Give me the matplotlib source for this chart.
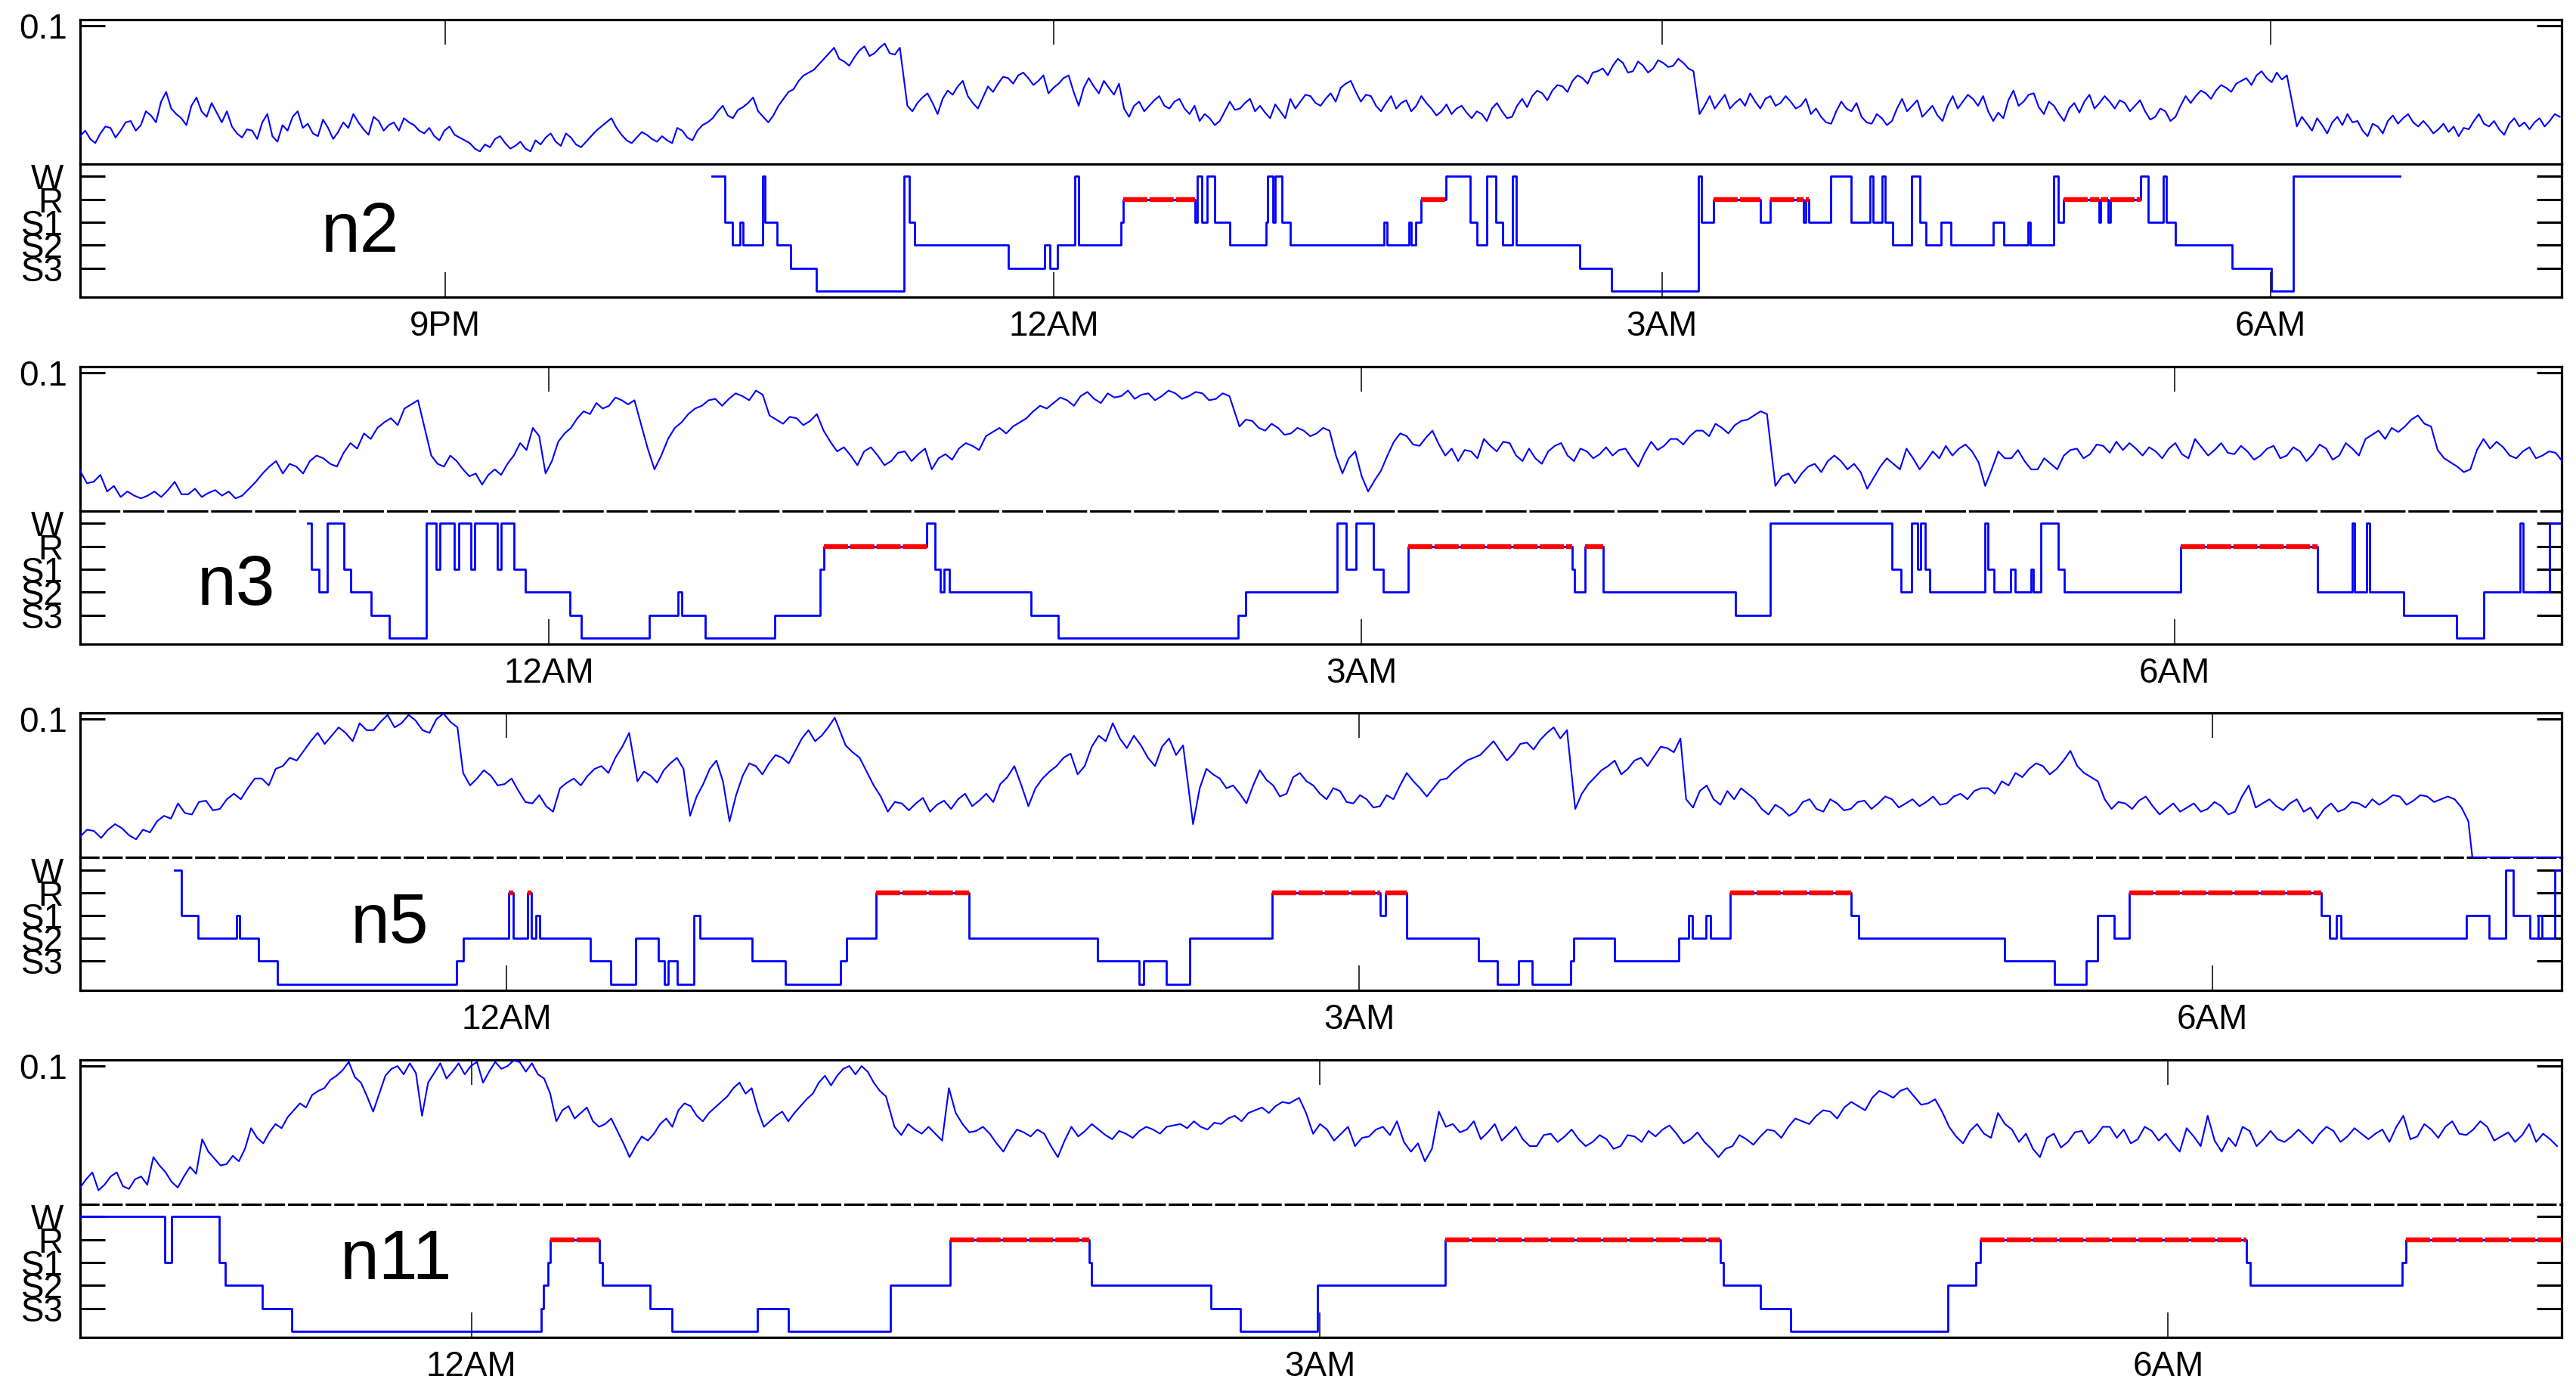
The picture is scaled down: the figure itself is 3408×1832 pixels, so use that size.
import numpy as np
import matplotlib
matplotlib.use('Agg')
import matplotlib.pyplot as plt

plt.rcParams['font.family'] = ['Liberation Sans', 'DejaVu Sans']

# ---------------------------------------------------------------- data
STAGE_LEVEL = {'W': 0, 'R': -1, 'S1': -2, 'S2': -3, 'S3': -4, 'S4': -5}
stage_ticks = ['W', 'R', 'S1', 'S2', 'S3']
upper_tick = [0.1]
upper_ticklabel = ['0.1']

# time axis in hours (24 = 12AM)
n2_xlim = (19.198, 31.437)
n2_xticks = [21, 24, 27, 30]
n2_xticklabels = ['9PM', '12AM', '3AM', '6AM']
other_xticks = [24, 27, 30]
other_xticklabels = ['12AM', '3AM', '6AM']
n3_xlim = (22.270, 31.429)
n5_xlim = (22.501, 31.228)
n11_xlim = (22.616, 31.392)

# ---- signals (values x 1e-3). Each segment: main samples + in-between samples,
#      evenly spaced over the segment's time span.
n2_sig_spans = [(19.198, 23.241), (23.278, 27.155), (27.185, 30.082), (30.131, 31.428)]
n2_sig_1 = [20, 18, 22, 26, 24, 31, 28, 35, 45, 40, 33, 42, 38, 44, 30, 27, 19, 24, 30, 20,
            28, 34, 26, 22, 32, 18, 30, 36, 25, 34, 24, 30, 33, 28, 22, 20, 24, 21, 17, 11,
            14, 18, 15, 13, 11, 17, 19, 16, 22, 14, 16, 24, 30, 26, 17, 19, 21, 16, 17, 26,
            19, 24, 30, 38, 35, 39, 44, 38, 30, 42, 52, 60, 66, 72, 80, 76, 71, 82, 78, 84,
            80, 84]
n2_mid_1 = [24, 15, 27, 19, 30, 24, 38, 30, 52, 36, 28, 48, 34, 37, 38, 22, 25, 18, 36, 16,
            24, 38, 29, 20, 26, 23, 26, 30, 21, 31, 28, 24, 30, 24, 26, 17, 27, 19, 15, 9,
            12, 20, 11, 16, 9, 14, 22, 13, 19, 12, 20, 27, 33, 21, 15, 23, 18, 20, 15, 24,
            17, 28, 33, 42, 33, 41, 48, 34, 35, 47, 54, 64, 68, 76, 84, 74, 77, 85, 80, 87, 79]
n2_sig_2 = [42, 44, 51, 36, 53, 56, 49, 40, 56, 58, 62, 64, 62, 60, 51, 58, 64, 42, 62, 51,
            55, 58, 34, 45, 42, 49, 40, 47, 36, 31, 33, 31, 45, 40, 47, 42, 33, 38, 47, 45,
            49, 42, 51, 55, 60, 45, 49, 38, 49, 44, 38, 49, 40, 38, 36, 42, 33, 36, 40, 38,
            34, 47, 49, 51, 53, 56, 60, 62, 66, 69, 71, 73, 67, 71, 69, 73, 71, 73, 67]
n2_mid_2 = [38, 48, 44, 47, 50, 60, 44, 48, 52, 63, 58, 66, 57, 64, 55, 62, 52, 55, 56, 60,
            50, 40, 42, 38, 46, 42, 45, 40, 42, 36, 28, 38, 39, 44, 38, 37, 43, 33, 40, 50,
            44, 47, 45, 58, 52, 50, 42, 44, 40, 46, 42, 44, 35, 43, 40, 37, 38, 31, 44, 33,
            42, 41, 53, 46, 57, 52, 64, 58, 67, 64, 76, 66, 74, 66, 75, 70, 76, 69]
n2_sig_3 = [36, 49, 45, 40, 47, 51, 40, 49, 44, 45, 42, 36, 34, 29, 45, 38, 34, 29, 33, 31,
            47, 42, 34, 42, 31, 49, 45, 47, 49, 31, 33, 53, 45, 51, 36, 42, 31, 44, 45, 40,
            49, 40, 44, 42, 38, 34, 38, 34, 49, 49, 51, 53, 55, 58, 62, 64, 62, 66, 64]
n2_mid_3 = [42, 40, 50, 44, 42, 45, 47, 42, 49, 40, 47, 40, 30, 38, 40, 44, 30, 36, 28, 40,
            38, 46, 38, 35, 42, 40, 50, 42, 38, 37, 46, 42, 50, 41, 45, 36, 40, 37, 50, 44,
            45, 46, 38, 46, 32, 40, 31, 42, 44, 53, 47, 57, 52, 60, 57, 67, 59, 61]
n2_sig_4 = [27, 29, 33, 22, 34, 36, 31, 20, 27, 31, 29, 36, 27, 27, 25, 23, 20, 25, 36, 27,
            25, 29, 27, 25, 33, 31, 34]
n2_mid_4 = [34, 24, 28, 30, 28, 30, 24, 29, 22, 35, 33, 30, 31, 22, 29, 27, 26, 31, 29, 31,
            21, 33, 30, 30, 27, 36]

n3_sig_spans = [(22.270, 23.517), (23.566, 24.316), (24.365, 26.512), (26.549, 28.496), (28.527, 31.431)]
n3_sig_1 = [29, 21, 14, 10, 11, 11, 10, 21, 12, 10, 15, 14, 11, 21, 32, 27, 32, 36, 38, 32,
            49, 56, 60, 67, 74, 80]
n3_mid_1 = [20, 26, 18, 14, 9, 14, 15, 12, 16, 13, 11, 9, 16, 27, 36, 34, 27, 40, 34, 42,
            45, 52, 64, 62, 77]
n3_sig_2 = [40, 32, 36, 25, 19, 30, 34, 49, 60, 27, 50, 60, 72, 78, 76, 80, 80]
n3_mid_2 = [34, 40, 30, 27, 26, 26, 40, 44, 54, 36, 56, 67, 70, 74, 82, 77]
n3_sig_3 = [45, 40, 60, 70, 76, 81, 81, 83, 87, 69, 63, 67, 65, 58, 43, 40, 43, 40, 36, 43,
            41, 30, 41, 45, 47, 54, 60, 61, 67, 76, 78, 80, 83, 81, 85, 83, 81, 85, 83, 85,
            83, 85, 81, 83]
n3_mid_3 = [30, 52, 64, 74, 80, 76, 85, 80, 84, 66, 68, 62, 70, 50, 46, 33, 46, 33, 42, 36,
            45, 38, 37, 49, 44, 57, 56, 64, 72, 74, 82, 76, 86, 78, 82, 87, 84, 80, 87, 81,
            86, 80, 85]
n3_sig_4 = [61, 65, 58, 60, 56, 58, 56, 58, 27, 43, 14, 29, 50, 54, 47, 58, 40, 36, 43, 52,
            43, 49, 36, 38, 43, 49, 36, 43, 41, 40, 45, 32, 50, 47, 52, 54, 58, 63, 56, 65,
            69, 70]
n3_mid_4 = [66, 60, 63, 55, 60, 54, 60, 40, 38, 25, 22, 40, 56, 48, 53, 48, 45, 44, 38, 47,
            50, 40, 45, 34, 47, 40, 45, 38, 46, 44, 38, 42, 44, 52, 48, 58, 54, 60, 62, 66, 72]
n3_sig_5 = [18, 27, 27, 34, 36, 36, 34, 16, 32, 34, 45, 30, 43, 47, 45, 43, 18, 43, 38, 36,
            30, 34, 40, 45, 41, 47, 50, 49, 40, 43, 45, 41, 52, 40, 49, 41, 43, 40, 47, 40,
            43, 41, 45, 40, 45, 52, 58, 60, 61, 69, 61, 38, 32, 30, 52, 50, 40, 43, 38, 43,
            36]
n3_mid_5 = [25, 20, 32, 28, 40, 30, 28, 24, 38, 30, 38, 36, 38, 40, 48, 35, 30, 38, 44, 30,
            38, 30, 44, 38, 48, 42, 44, 45, 46, 38, 49, 38, 46, 44, 42, 47, 37, 45, 38, 46,
            36, 48, 37, 49, 40, 55, 52, 57, 66, 63, 44, 35, 28, 44, 45, 46, 38, 46, 40, 42]

n5_sig_spans = [(22.501, 23.828), (23.848, 24.432), (24.461, 25.155), (25.193, 26.380),
                (26.415, 27.730), (27.759, 28.129), (28.149, 30.900), (30.914, 31.228)]
n5_sig_1 = [15, 19, 20, 21, 13, 18, 30, 39, 31, 41, 35, 46, 50, 57, 64, 72, 77, 90, 88, 90,
            97, 92, 103, 97, 99, 90, 104, 94]
n5_mid_1 = [20, 14, 24, 16, 20, 26, 28, 32, 40, 34, 42, 42, 57, 52, 66, 70, 84, 82, 94, 84,
            92, 98, 94, 103, 92, 100, 98]
n5_sig_2 = [61, 57, 59, 53, 48, 39, 37, 50, 57, 59, 66, 72, 90]
n5_mid_2 = [52, 63, 52, 57, 40, 45, 33, 54, 52, 64, 61, 80]
n5_sig_3 = [55, 59, 63, 72, 30, 53, 70, 26, 59, 66, 68, 72, 77, 92, 88, 101]
n5_mid_3 = [62, 54, 68, 64, 44, 64, 55, 45, 68, 60, 74, 68, 86, 84, 94]
n5_sig_4 = [81, 72, 52, 33, 39, 39, 33, 41, 42, 37, 46, 53, 66, 37, 57, 66, 75, 66, 88, 97,
            79, 81, 66, 86, 81]
n5_mid_4 = [76, 62, 44, 40, 34, 43, 38, 35, 46, 41, 40, 58, 52, 50, 62, 72, 60, 80, 84, 86,
            88, 72, 80, 74]
n5_sig_5 = [24, 64, 57, 52, 39, 63, 52, 46, 61, 52, 42, 48, 39, 42, 37, 42, 61, 50, 50, 57,
            66, 72, 79, 77, 75, 83, 85, 94, 92]
n5_mid_5 = [50, 60, 50, 46, 52, 56, 44, 58, 55, 46, 50, 40, 45, 36, 45, 52, 55, 44, 56, 62,
            70, 74, 84, 70, 82, 78, 90, 86]
n5_sig_6 = [35, 53, 63, 70, 64, 72, 73, 79, 86]
n5_mid_6 = [46, 58, 66, 60, 70, 66, 80, 76]
n5_sig_7 = [42, 48, 42, 48, 50, 42, 31, 35, 33, 42, 33, 39, 35, 41, 39, 42, 39, 37, 44, 39,
            46, 48, 50, 55, 61, 64, 66, 64, 77, 61, 55, 35, 39, 41, 37, 35, 33, 39, 35, 37,
            33, 52, 39, 37, 39, 33, 28, 39, 35, 39, 42, 41, 44, 41, 44, 42, 42, 26]
n5_mid_7 = [36, 52, 38, 42, 46, 35, 38, 30, 40, 35, 42, 34, 40, 35, 44, 36, 42, 40, 38, 44,
            42, 50, 46, 52, 58, 68, 60, 70, 66, 58, 42, 40, 35, 44, 31, 39, 36, 33, 40, 31,
            44, 36, 42, 34, 42, 36, 35, 33, 40, 36, 38, 45, 38, 45, 40, 44, 36]
n5_sig_8 = [0, 0]
n5_mid_8 = [0]

n11_sig_spans = [(22.616, 25.466), (25.496, 26.892), (26.927, 31.376)]
n11_sig_1 = [12, 23, 14, 23, 11, 20, 34, 23, 12, 27, 47, 33, 29, 31, 55, 44, 58, 63, 73, 79,
             84, 93, 103, 88, 67, 93, 100, 102, 64, 95, 91, 102, 100, 88, 103, 100, 103, 102, 91, 60,
             71, 66, 60, 58, 53, 34, 49, 51, 62, 68, 71, 60, 70, 78, 88, 84, 56, 64, 60, 71,
             80, 93, 93, 100, 100, 88, 78]
n11_mid_1 = [18, 10, 20, 13, 18, 14, 28, 16, 20, 22, 38, 28, 35, 40, 48, 52, 55, 68, 70, 82,
             90, 97, 92, 78, 80, 98, 94, 95, 88, 102, 96, 94, 103, 96, 98, 104, 96, 94, 80, 68,
             62, 70, 56, 62, 44, 42, 46, 58, 56, 73, 64, 66, 74, 84, 80, 68, 60, 67, 66, 76,
             88, 86, 98, 94, 96, 82]
n11_sig_2 = [56, 58, 51, 51, 84, 58, 53, 51, 38, 54, 49, 51, 34, 56, 53, 54, 47, 51, 53, 54,
             56, 58, 60, 54, 58, 64, 66, 70, 71, 73]
n11_mid_2 = [50, 54, 56, 46, 66, 52, 56, 44, 47, 52, 54, 42, 46, 49, 58, 50, 53, 48, 56, 51,
             57, 55, 56, 59, 62, 60, 68, 66, 74]
n11_sig_3 = [77, 51, 54, 51, 42, 49, 56, 60, 38, 31, 67, 58, 54, 47, 58, 51, 47, 42, 51, 49,
             47, 45, 47, 42, 49, 53, 54, 51, 47, 45, 34, 42, 47, 49, 53, 56, 60, 64, 67, 70,
             71, 77, 80, 82, 78, 73, 67, 49, 53, 51, 66, 54, 51, 34, 51, 45, 53, 49, 56, 54,
             47, 53, 51, 38, 49, 64, 38, 42, 53, 47, 47, 49, 49, 51, 53, 49, 51, 51, 45, 64,
             49, 54, 56, 51, 54, 56, 49, 45, 58, 51, 42]
n11_mid_3 = [66, 58, 46, 56, 48, 54, 50, 45, 44, 40, 56, 52, 60, 52, 46, 56, 42, 50, 45, 54,
             42, 50, 40, 50, 45, 49, 57, 44, 52, 40, 40, 50, 43, 54, 48, 62, 58, 68, 62, 74,
             68, 82, 77, 84, 72, 76, 56, 44, 58, 48, 58, 45, 40, 48, 41, 52, 44, 56, 48, 44,
             56, 46, 44, 55, 42, 46, 48, 56, 42, 53, 45, 54, 44, 56, 45, 55, 47, 54, 56, 47,
             58, 48, 60, 50, 60, 46, 52, 50, 45, 47]

# ---- hypnograms: change times (h) and stage entered
n2_hyp_t = [22.315, 22.377, 22.414, 22.451, 22.466, 22.566, 22.577, 22.634, 22.702, 22.828,
            23.263, 23.289, 23.312, 23.777, 23.956, 23.982, 24.019, 24.105, 24.122, 24.333,
            24.341, 24.698, 24.709, 24.732, 24.755, 24.795, 24.869, 25.046, 25.054, 25.080,
            25.091, 25.125, 25.165, 25.630, 25.644, 25.750, 25.764, 25.787, 25.810, 25.935,
            26.052, 26.086, 26.135, 26.180, 26.215, 26.263, 26.280, 26.594, 26.751, 27.180,
            27.195, 27.254, 27.484, 27.532, 27.696, 27.710, 27.725, 27.831, 27.931, 28.026,
            28.040, 28.085, 28.101, 28.136, 28.232, 28.272, 28.301, 28.376, 28.424, 28.634,
            28.687, 28.804, 28.815, 28.933, 28.953, 28.982, 29.155, 29.164, 29.202, 29.213,
            29.361, 29.399, 29.472, 29.487, 29.533, 29.812, 30.007, 30.112]
n2_hyp_s = ['W', 'S1', 'S2', 'S1', 'S2', 'W', 'S1', 'S2', 'S3', 'S4',
            'W', 'S1', 'S2', 'S3', 'S2', 'S3', 'S2', 'W', 'S2', 'S1',
            'R', 'S1', 'W', 'S1', 'W', 'S1', 'S2', 'S1', 'W', 'S1',
            'W', 'S1', 'S2', 'S1', 'S2', 'S1', 'S2', 'S1', 'R', 'W',
            'S1', 'S2', 'W', 'S1', 'S2', 'W', 'S2', 'S3', 'S4', 'W',
            'S1', 'R', 'S1', 'R', 'S1', 'R', 'S1', 'W', 'S1', 'W',
            'S1', 'W', 'S1', 'S2', 'W', 'S1', 'S2', 'S1', 'S2', 'S1',
            'S2', 'S1', 'S2', 'W', 'S1', 'R', 'S1', 'R', 'S1', 'R',
            'W', 'S1', 'W', 'S1', 'S2', 'S3', 'S4', 'W']
n2_hyp_end = 30.641

n3_hyp_t = [23.109, 23.125, 23.152, 23.183, 23.244, 23.268, 23.345, 23.412, 23.547, 23.584,
            23.599, 23.651, 23.667, 23.713, 23.725, 23.811, 23.823, 23.872, 23.912, 24.077,
            24.120, 24.371, 24.478, 24.490, 24.576, 24.834, 25.002, 25.014, 25.394, 25.425,
            25.446, 25.458, 25.477, 25.780, 25.881, 26.543, 26.573, 26.909, 26.942, 26.979,
            27.043, 27.079, 27.173, 27.776, 27.785, 27.824, 27.891, 28.381, 28.509, 28.956,
            28.992, 29.029, 29.053, 29.062, 29.080, 29.096, 29.299, 29.311, 29.333, 29.394,
            29.412, 29.470, 29.479, 29.506, 29.570, 29.594, 30.023, 30.528, 30.656, 30.665,
            30.710, 30.720, 30.847, 31.042, 31.142, 31.276, 31.288, 31.383]
n3_hyp_s = ['W', 'S1', 'S2', 'W', 'S1', 'S2', 'S3', 'S4', 'W', 'S1',
            'W', 'S1', 'W', 'S1', 'W', 'S1', 'W', 'S1', 'S2', 'S3',
            'S4', 'S3', 'S2', 'S3', 'S4', 'S3', 'S1', 'R', 'W', 'S1',
            'S2', 'S1', 'S2', 'S3', 'S4', 'S3', 'S2', 'W', 'S1', 'W',
            'S1', 'S2', 'R', 'S1', 'S2', 'R', 'S2', 'S3', 'W', 'S1',
            'S2', 'W', 'S1', 'W', 'S1', 'S2', 'W', 'S1', 'S2', 'S1',
            'S2', 'S1', 'S2', 'W', 'S1', 'S2', 'R', 'S2', 'W', 'S2',
            'W', 'S2', 'S3', 'S4', 'S2', 'W', 'S2', 'W']
n3_hyp_end = 31.431

n5_hyp_t = [22.833, 22.857, 22.915, 23.052, 23.061, 23.128, 23.195, 23.825, 23.848, 24.009,
            24.023, 24.076, 24.087, 24.105, 24.117, 24.295, 24.367, 24.455, 24.534, 24.557,
            24.569, 24.601, 24.659, 24.680, 24.863, 24.980, 25.175, 25.196, 25.301, 25.627,
            26.079, 26.225, 26.240, 26.321, 26.403, 26.692, 27.072, 27.093, 27.165, 27.420,
            27.484, 27.559, 27.608, 27.744, 27.753, 27.897, 28.123, 28.158, 28.170, 28.219,
            28.236, 28.303, 28.728, 28.757, 29.270, 29.444, 29.556, 29.597, 29.655, 29.707,
            30.384, 30.413, 30.437, 30.451, 30.894, 30.972, 31.030, 31.059, 31.117, 31.146,
            31.160, 31.204]
n5_hyp_s = ['W', 'S1', 'S2', 'S1', 'S2', 'S3', 'S4', 'S3', 'S2', 'R',
            'S2', 'R', 'S2', 'S1', 'S2', 'S3', 'S4', 'S2', 'S3', 'S4',
            'S3', 'S4', 'S1', 'S2', 'S3', 'S4', 'S3', 'S2', 'R', 'S2',
            'S3', 'S4', 'S3', 'S4', 'S2', 'R', 'S1', 'R', 'S2', 'S3',
            'S4', 'S3', 'S4', 'S3', 'S2', 'S3', 'S2', 'S1', 'S2', 'S1',
            'S2', 'R', 'S1', 'S2', 'S3', 'S4', 'S3', 'S1', 'S2', 'R',
            'S1', 'S2', 'S1', 'S2', 'S1', 'S2', 'W', 'S1', 'S2', 'S1',
            'S2', 'W']
n5_hyp_end = 31.224

n11_hyp_t = [22.616, 22.915, 22.939, 23.109, 23.129, 23.261, 23.364, 24.246, 24.255, 24.270,
             24.279, 24.452, 24.464, 24.631, 24.710, 25.012, 25.120, 25.481, 25.692, 26.185,
             26.194, 26.616, 26.719, 26.991, 27.443, 28.418, 28.427, 28.558, 28.666, 29.222,
             29.321, 29.336, 30.276, 30.291, 30.829, 30.841]
n11_hyp_s = ['W', 'S1', 'W', 'S1', 'S2', 'S3', 'S4', 'S3', 'S2', 'S1',
             'R', 'S1', 'S2', 'S3', 'S4', 'S3', 'S4', 'S2', 'R', 'S1',
             'S2', 'S3', 'S4', 'S2', 'R', 'S1', 'S2', 'S3', 'S4', 'S2',
             'S1', 'R', 'S1', 'S2', 'S1', 'R']
n11_hyp_end = 31.392

# ---------------------------------------------------------------- drawing
W_PX, H_PX = 3408, 1832
fig = plt.figure(figsize=(W_PX / 100, H_PX / 100), dpi=100)
BLUE = '#0000ff'
RED = '#ff0000'
LEFT, RIGHT = 106, 3389
FS = 33


def px_axes(top, bottom):
    return fig.add_axes([LEFT / W_PX, 1 - bottom / H_PX,
                         (RIGHT - LEFT) / W_PX, (bottom - top) / H_PX])


def interleave(seg, mid):
    out = []
    for i, v in enumerate(seg):
        out.append(v)
        if i < len(seg) - 1 and i < len(mid):
            out.append(mid[i])
    return out


def build_signal(spans, segs, mids):
    ts, vs = [], []
    for (a, b), s, m in zip(spans, segs, mids):
        vals = interleave(s, m)
        ts.append(np.linspace(a, b, len(vals)))
        vs.append(np.asarray(vals, float))
    return np.concatenate(ts), np.concatenate(vs) / 1000.0


def draw_hyp(ax, t, stages, t_end):
    lv = np.array([STAGE_LEVEL[s] for s in stages], float)
    tt = np.append(np.asarray(t, float), t_end)
    ll = np.append(lv, lv[-1])
    ax.step(tt, ll, where='post', color=BLUE, lw=2.0, zorder=3)
    for i, s in enumerate(stages):
        if s == 'R':
            ax.plot([tt[i], tt[i + 1]], [lv[i], lv[i]], color=RED, lw=4.6,
                    linestyle=(0, (5.0, 0.45)), dash_capstyle='butt',
                    solid_capstyle='butt', zorder=4)


panels = [
    dict(label='n2', rows=(26, 216.7, 393.3), xlim=n2_xlim, ticks=n2_xticks,
         ticklabels=n2_xticklabels,
         sig=build_signal(n2_sig_spans, [n2_sig_1, n2_sig_2, n2_sig_3, n2_sig_4],
                          [n2_mid_1, n2_mid_2, n2_mid_3, n2_mid_4]),
         hyp=(n2_hyp_t, n2_hyp_s, n2_hyp_end), dash=None, lab_xy=(476, 333)),
    dict(label='n3', rows=(485, 675.7, 852.3), xlim=n3_xlim, ticks=other_xticks,
         ticklabels=other_xticklabels,
         sig=build_signal(n3_sig_spans, [n3_sig_1, n3_sig_2, n3_sig_3, n3_sig_4, n3_sig_5],
                          [n3_mid_1, n3_mid_2, n3_mid_3, n3_mid_4, n3_mid_5]),
         hyp=(n3_hyp_t, n3_hyp_s, n3_hyp_end), dash=(16, 2.2), lab_xy=(313, 800)),
    dict(label='n5', rows=(943.3, 1134, 1310), xlim=n5_xlim, ticks=other_xticks,
         ticklabels=other_xticklabels,
         sig=build_signal(n5_sig_spans, [n5_sig_1, n5_sig_2, n5_sig_3, n5_sig_4,
                                         n5_sig_5, n5_sig_6, n5_sig_7, n5_sig_8],
                          [n5_mid_1, n5_mid_2, n5_mid_3, n5_mid_4,
                           n5_mid_5, n5_mid_6, n5_mid_7, n5_mid_8]),
         hyp=(n5_hyp_t, n5_hyp_s, n5_hyp_end), dash=(7.4, 2.2), lab_xy=(516, 1247)),
    dict(label='n11', rows=(1402.3, 1592.7, 1769.3), xlim=n11_xlim, ticks=other_xticks,
         ticklabels=other_xticklabels,
         sig=build_signal(n11_sig_spans, [n11_sig_1, n11_sig_2, n11_sig_3],
                          [n11_mid_1, n11_mid_2, n11_mid_3]),
         hyp=(n11_hyp_t, n11_hyp_s, n11_hyp_end), dash=(7.4, 2.2), lab_xy=(524, 1692)),
]

for p in panels:
    top, sep, bot = p['rows']
    axl = px_axes(sep, bot)
    axu = px_axes(top, sep)
    axu.set_zorder(2)
    axl.set_zorder(1)
    axu.patch.set_visible(False)
    axl.patch.set_visible(False)

    # upper: signal
    t, v = p['sig']
    axu.plot(t, v, color=BLUE, lw=1.5, zorder=3, clip_on=False)
    axu.set_xlim(*p['xlim'])
    axu.set_ylim(0, 0.1043)
    axu.set_yticks(upper_tick)
    axu.set_yticklabels(upper_ticklabel)
    axu.set_xticks(p['ticks'])
    axu.tick_params(axis='y', direction='in', left=True, right=True, length=24, width=2.2,
                    labelsize=FS, pad=12)
    axu.tick_params(axis='x', direction='in', top=True, bottom=False, labelbottom=False,
                    labeltop=False, length=24, width=1.1)

    # lower: hypnogram
    draw_hyp(axl, *p['hyp'])
    axl.set_xlim(*p['xlim'])
    axl.set_ylim(-5.28, 0.55)
    axl.set_yticks([STAGE_LEVEL[s] for s in stage_ticks])
    axl.set_yticklabels(stage_ticks)
    axl.set_xticks(p['ticks'])
    axl.set_xticklabels(p['ticklabels'])
    axl.tick_params(axis='y', direction='in', left=True, right=True, length=24, width=2.2,
                    labelsize=FS, pad=16)
    axl.tick_params(axis='x', direction='in', top=False, bottom=True, length=24, width=1.1,
                    labelsize=FS, pad=12)

    for ax in (axu, axl):
        for sp in ax.spines.values():
            sp.set_linewidth(2.3)
            sp.set_color('black')
    if p['dash'] is None:
        axl.spines['top'].set_visible(False)
    else:
        axu.spines['bottom'].set_visible(False)
        axl.spines['top'].set_linestyle((0, p['dash']))

    fig.text(p['lab_xy'][0] / W_PX, 1 - p['lab_xy'][1] / H_PX, p['label'],
             ha='center', va='baseline', fontsize=67)

fig.savefig('out.png', dpi=100, facecolor='white')
